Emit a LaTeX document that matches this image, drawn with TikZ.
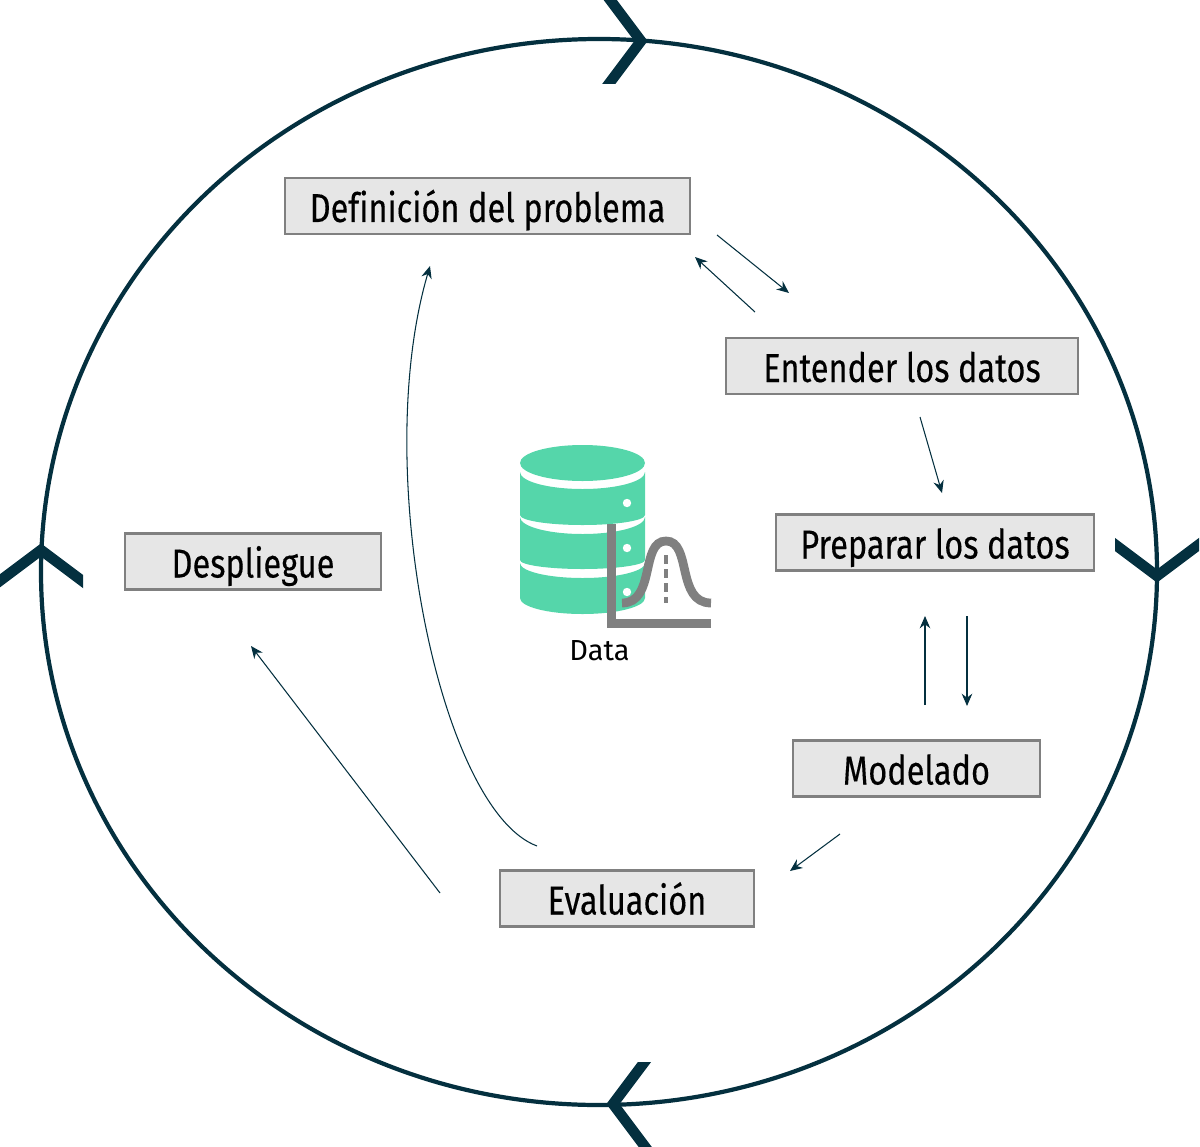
\documentclass[tikz,border=0pt]{standalone}
\usepackage{fontspec}
\usepackage{tikz}
\usetikzlibrary{arrows.meta}
\setmainfont[FakeStretch=0.805, FakeBold=0.25, Ligatures=NoCommon]{Fira Sans}
\newfontfamily\datafont{Fira Sans}
\definecolor{navyline}{HTML}{04303F}
\definecolor{dbgreen}{HTML}{55D6AA}
\definecolor{boxfill}{HTML}{E6E6E6}
\definecolor{axisgrey}{HTML}{808080}
\tikzset{
  stagebox/.style={draw=axisgrey, line width=1.2pt, fill=boxfill, inner sep=0pt,
    minimum height=1.12cm, text height=0.8cm, text depth=0.16cm, align=center,
    font=\fontsize{23}{26}\selectfont},
  flow/.style={navyline, line width=0.6pt, -{Stealth[length=7pt,width=6pt]}},
}

\begin{document}
\begin{tikzpicture}[x=0.02cm, y=-0.02cm]
        \useasboundingbox (0,0) rectangle (1200,1146);
        \clip (0,0) rectangle (1200,1146);

        \draw[navyline, line width=2.4pt] (599,572) circle [x radius=558, y radius=533];
        \foreach \px/\py/\ang in {641/41/0, 1157/576/-90, 41/550/90, 613/1104/180} {
          \begin{scope}[shift={(\px,\py)}, rotate=\ang]
            \clip (-70,-42) rectangle (15,42);
            \draw[navyline, line width=6pt, miter limit=10] (-60,-80) -- (0,0) -- (-60,80);
          \end{scope}
        }

        \node[stagebox, minimum width=8.1cm]  (problema)   at (487.5,206) {Definición del problema};
        \node[stagebox, minimum width=7.04cm] (entender)   at (902,366)   {Entender los datos};
        \node[stagebox, minimum width=6.36cm] (preparar)   at (935,542.5) {Preparar los datos};
        \node[stagebox, minimum width=4.94cm] (modelado)   at (916.5,768.5) {Modelado};
        \node[stagebox, minimum width=5.08cm] (evaluacion) at (627,898.5) {Evaluación};
        \node[stagebox, minimum width=5.12cm] (despliegue) at (253,561.5) {Despliegue};

        \coordinate (pe1) at (717,235);  \coordinate (pe2) at (789,293);
        \coordinate (ep1) at (755,312);  \coordinate (ep2) at (695,257);
        \coordinate (ea1) at (920,417);  \coordinate (ea2) at (942,493);
        \coordinate (mp1) at (925,705);  \coordinate (mp2) at (925,616);
        \coordinate (pm1) at (967,616);  \coordinate (pm2) at (967,706);
        \coordinate (me1) at (840,834);  \coordinate (me2) at (790,871);
        \coordinate (ev1) at (537,846);  \coordinate (ev2) at (430,266);
        \coordinate (ed1) at (440,893);  \coordinate (ed2) at (251,646);

        \draw[flow] (pe1) -- (pe2);
        \draw[flow] (ep1) -- (ep2);
        \draw[flow] (ea1) -- (ea2);
        \draw[flow] (mp1) -- (mp2);
        \draw[flow] (pm1) -- (pm2);
        \draw[flow] (me1) -- (me2);
        \draw[flow] (ev1) .. controls (440,810) and (370,470) .. (ev2);
        \draw[flow] (ed1) -- (ed2);

        \fill[dbgreen] (520,463) arc [start angle=180, end angle=-180, x radius=62.5, y radius=18];
        \fill[dbgreen] (520,472) arc [start angle=180, end angle=0, x radius=62.5, y radius=17]
                       -- (645,515) arc [start angle=0, end angle=180, x radius=62.5, y radius=10] -- cycle;
        \fill[dbgreen] (520,517) arc [start angle=180, end angle=0, x radius=62.5, y radius=17]
                       -- (645,560) arc [start angle=0, end angle=180, x radius=62.5, y radius=9] -- cycle;
        \fill[dbgreen] (520,563) arc [start angle=180, end angle=0, x radius=62.5, y radius=15]
                       -- (645,598) arc [start angle=0, end angle=180, x radius=62.5, y radius=16] -- cycle;
        \foreach \dy in {503,548,592} {
          \fill[white] (627,\dy) circle [radius=4.2];
        }

        \draw[axisgrey, line width=5pt] (611.5,524) -- (611.5,623.5) -- (711,623.5);
        \draw[axisgrey, line width=5pt] (622,603) .. controls (656,603) and (640,541) .. (666,541)
                                        .. controls (692,541) and (676,603) .. (711,603);
        \draw[axisgrey, line width=1.9pt, dash pattern=on 5pt off 3pt] (666,555) -- (666,603);

        \node[font=\datafont\fontsize{16.5}{18}\selectfont, inner sep=0pt] (data) at (599.5,651) {Data};
    \end{tikzpicture}
\end{document}
